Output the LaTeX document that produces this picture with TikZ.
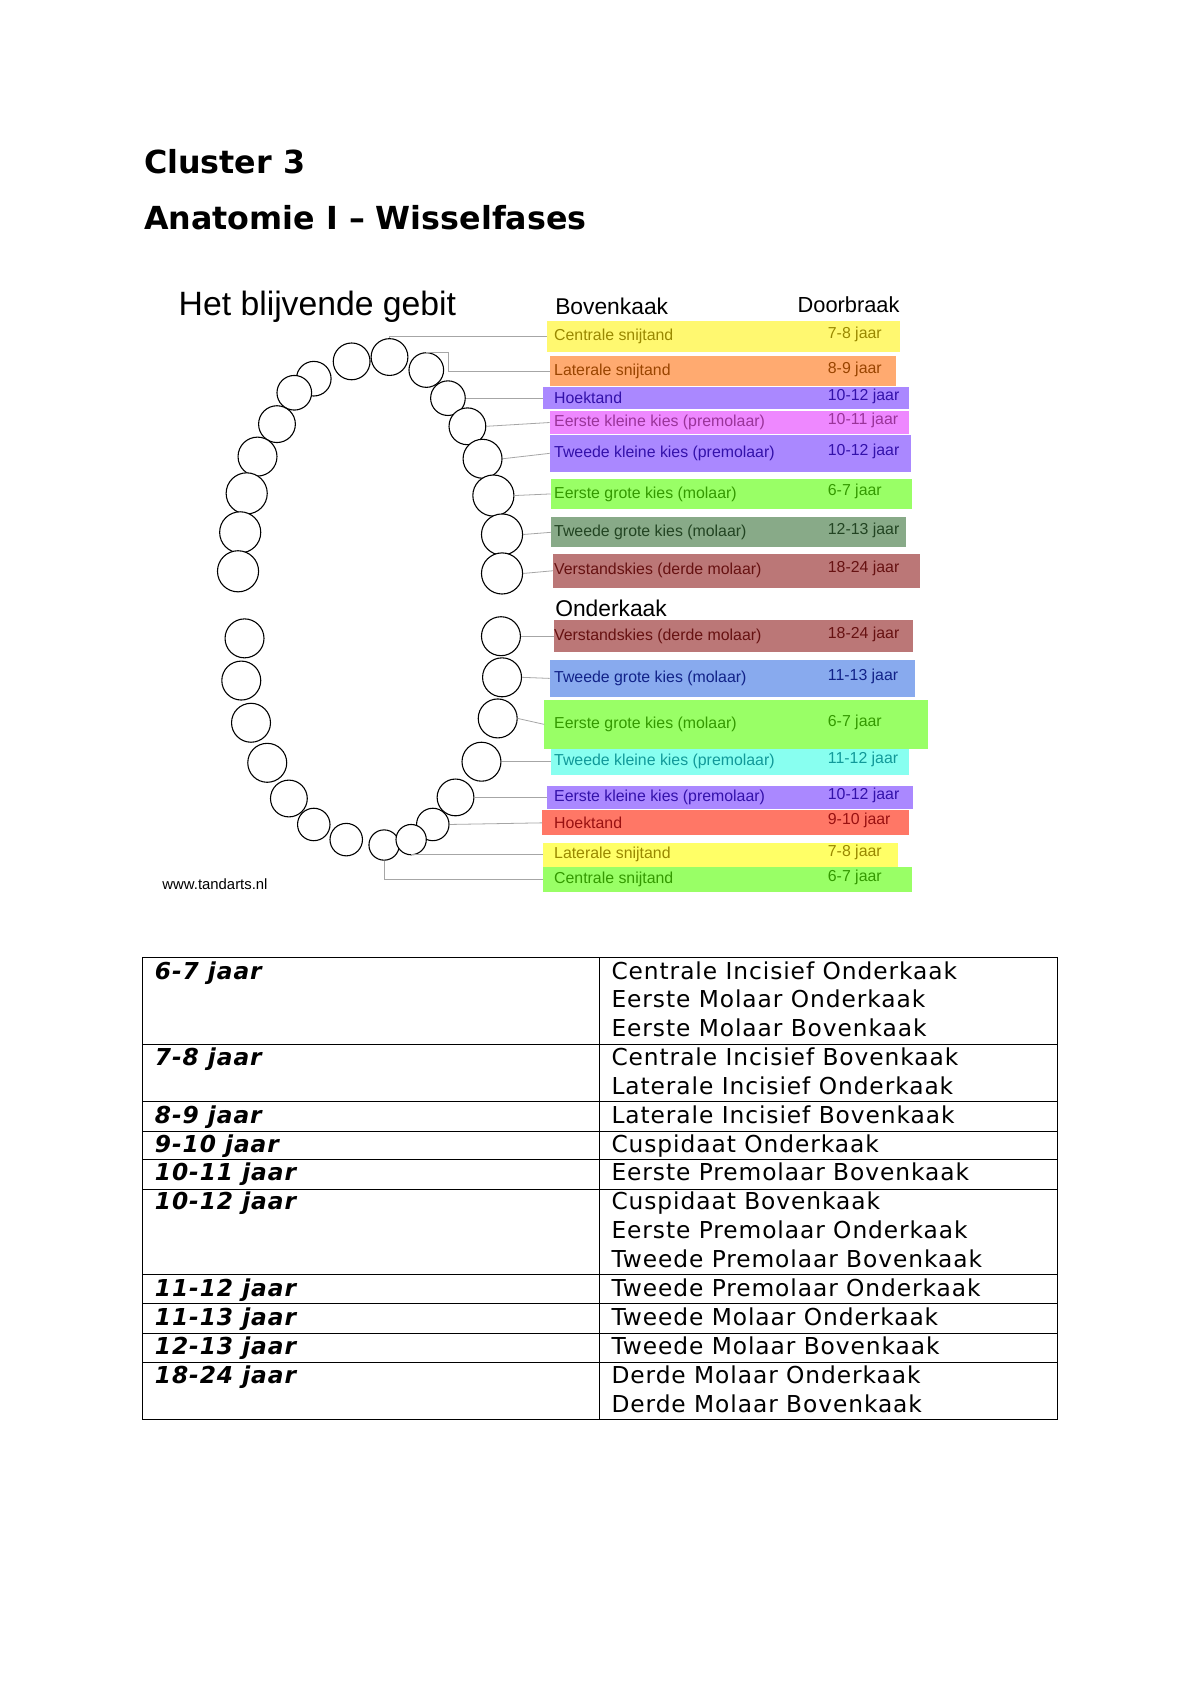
\documentclass[tikz,border=0pt]{standalone}
\usepackage{fontspec}
\setmainfont{DejaVu Sans}
\newfontfamily\lab{Liberation Sans}
\newfontfamily\tabf[LetterSpace=4]{DejaVu Sans}
\begin{document}
\begin{tikzpicture}[x=1.0909pt,y=-1.0909pt,
  lbl/.style={anchor=west,inner sep=0pt,font=\lab\fontsize{16}{16}\selectfont},
  tooth/.style={draw,line width=1.1pt,fill=white},
  lead/.style={draw=gray!70,line width=0.8pt},
  tt/.style={anchor=base west,inner sep=0pt,font=\tabf\fontsize{23.5}{23.5}\selectfont},
  tl/.style={anchor=base west,inner sep=0pt,font=\tabf\fontsize{23.5}{23.5}\selectfont\bfseries\itshape}]
\path[use as bounding box,fill=white] (0,0) rectangle (1109,1567.5);
\node[anchor=base west,inner sep=0pt,font=\fontsize{32}{32}\selectfont\bfseries] (t1) at (133,160) {Cluster 3};
\node[anchor=base west,inner sep=0pt,font=\fontsize{32}{32}\selectfont\bfseries] (t2) at (133,212) {Anatomie I – Wisselfases};
\node[anchor=base west,inner sep=0pt,font=\lab\fontsize{34}{34}\selectfont] (hb) at (165,292) {Het blijvende gebit};
\node[anchor=base west,inner sep=0pt,font=\lab\fontsize{23}{23}\selectfont] (bk) at (513,291) {Bovenkaak};
\node[anchor=base west,inner sep=0pt,font=\lab\fontsize{22}{22}\selectfont] (db) at (737,289) {Doorbraak};
\node[anchor=base west,inner sep=0pt,font=\lab\fontsize{23}{23}\selectfont] (ok) at (513,570) {Onderkaak};
\node[anchor=base west,inner sep=0pt,font=\lab\fontsize{15}{15}\selectfont] (www) at (150,822) {www.tandarts.nl};
% teeth
\foreach \n/\x/\y/\r in {u1/325/334/17,u2/360/330/17,u3/394/342/16,u4/290/350/16,u5/272/363/16,
 u6/256/392/17,u7/238/422/18,u8/228/456/19,u9/222/492/19,u10/220/528/19,
 u11/414/368/16,u12/432/394/17,u13/446/424/18,u14/456/458/19,u15/464/494/19,u16/464/530/19,
 l1/226/590/18,l2/223/629/18,l3/232/668/18,l4/247/705/18,l5/267/738/17,l6/290/762/15,l7/320/776/15,l8/355/781/14,
 l9/463/588/18,l10/464/626/18,l11/460/664/18,l12/445/704/18,l13/421/737/17,l14/400/762/15,l15/380/776/14}
 {\node[tooth,circle,minimum size=2*\r*1.0909pt,inner sep=0pt] (\n) at (\x,\y) {};}
% colour boxes
\foreach \n/\a/\b/\c/\d/\col/\tc/\txt/\yr in {
 b1/506/297/832/325/FFF870/998800/Centrale snijtand/7-8 jaar,
 b2/508/329/828/357/FFAA70/994400/Laterale snijtand/8-9 jaar,
 b3/502/358/840/378/AA88FF/3311AA/Hoektand/10-12 jaar,
 b4/508/380/840/401/EE88FF/993399/Eerste kleine kies (premolaar)/10-11 jaar,
 b5/508/402/842/436/AA88FF/3311AA/Tweede kleine kies (premolaar)/10-12 jaar,
 b6/509/443/843/470/99FF66/339900/Eerste grote kies (molaar)/6-7 jaar,
 b7/509/478/837/506/88AA88/224422/Tweede grote kies (molaar)/12-13 jaar,
 b8/511/512/850/543/BB7777/661111/Verstandskies (derde molaar)/18-24 jaar,
 b9/512/573/844/603/BB7777/661111/Verstandskies (derde molaar)/18-24 jaar,
 b10/508/610/846/644/88AAEE/112288/Tweede grote kies (molaar)/11-13 jaar,
 b11/503/647/858/692/99FF66/339900/Eerste grote kies (molaar)/6-7 jaar,
 b12/509/692/840/716/88FFF0/119999/Tweede kleine kies (premolaar)/11-12 jaar,
 b13/506/726/844/748/AA88FF/3311AA/Eerste kleine kies (premolaar)/10-12 jaar,
 b14/501/749/840/772/FF7766/991111/Hoektand/9-10 jaar,
 b15/502/779/830/801/FFFF66/998800/Laterale snijtand/7-8 jaar,
 b16/502/801/843/824/99FF66/339900/Centrale snijtand/6-7 jaar}
{\definecolor{bc}{HTML}{\col}\definecolor{tc}{HTML}{\tc}
 \fill[bc] (\a,\b) rectangle (\c,\d);
 \coordinate (\n) at (\a,{(\b+\d)/2});
 \node[lbl,text=tc] (\n t) at (512,{(\b+\d)/2}) {\txt};
 \node[lbl,text=tc] (\n y) at (765,{(\b+\d)/2-2}) {\yr};}
% leader lines
\draw[lead] (u2.north) |- (b1);
\draw[lead] (u3.north) -- ++(20,0) |- (b2);
\draw[lead] (u11.east) -- (b3);
\draw[lead] (u12.east) -- (b4);
\draw[lead] (u13.east) -- (b5);
\draw[lead] (u14.east) -- (b6);
\draw[lead] (u15.east) -- (b7);
\draw[lead] (u16.east) -- (b8);
\draw[lead] (l9.east) -- (b9);
\draw[lead] (l10.east) -- (b10);
\draw[lead] (l11.east) -- (b11);
\draw[lead] (l12.east) -- (b12);
\draw[lead] (l13.east) -- (b13);
\draw[lead] (l14.east) -- (b14);
\draw[lead] (l15.south) |- (b15);
\draw[lead] (l8.south) |- (b16);
% table
\draw[line width=0.8pt] (132,885) rectangle (977,1312);
\draw[line width=0.8pt] (554,885) -- (554,1312);
\foreach \y in {965,1018,1046,1072,1099,1178,1205,1232,1259} \draw[line width=0.8pt] (132,\y) -- (977,\y);
\foreach \n/\y/\t in {r1/905/6-7 jaar,r2/985/7-8 jaar,r3/1038/8-9 jaar,r4/1065/9-10 jaar,r5/1091/10-11 jaar,
 r6/1118/10-12 jaar,r7/1198/11-12 jaar,r8/1225/11-13 jaar,r9/1252/12-13 jaar,r10/1279/18-24 jaar}
 {\node[tl] (\n) at (143,\y) {\t};}
\foreach \n/\y/\t in {c1/905/Centrale Incisief Onderkaak,c2/931.5/Eerste Molaar Onderkaak,c3/958/Eerste Molaar Bovenkaak,
 c4/985/Centrale Incisief Bovenkaak,c5/1011.5/Laterale Incisief Onderkaak,c6/1038/Laterale Incisief Bovenkaak,
 c7/1065/Cuspidaat Onderkaak,c8/1091/Eerste Premolaar Bovenkaak,c9/1118/Cuspidaat Bovenkaak,
 c10/1144.5/Eerste Premolaar Onderkaak,c11/1171/Tweede Premolaar Bovenkaak,c12/1198/Tweede Premolaar Onderkaak,
 c13/1225/Tweede Molaar Onderkaak,c14/1252/Tweede Molaar Bovenkaak,c15/1279/Derde Molaar Onderkaak,c16/1305.5/Derde Molaar Bovenkaak}
 {\node[tt] (\n) at (565,\y) {\t};}
\end{tikzpicture}
\end{document}
